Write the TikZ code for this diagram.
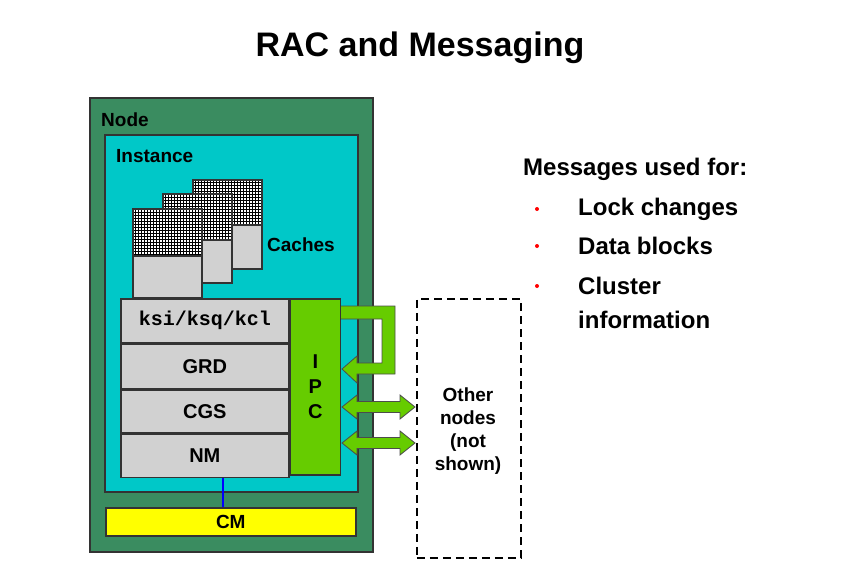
\documentclass[tikz,border=0pt]{standalone}
\usepackage{fontspec}
\setmainfont{Liberation Sans}
\setmonofont{Liberation Mono}
\usetikzlibrary{patterns}
\definecolor{nodegreen}{RGB}{58,140,96}
\definecolor{instcyan}{RGB}{0,200,200}
\definecolor{ipcgreen}{RGB}{102,204,0}
\definecolor{cmyellow}{RGB}{255,255,0}
\tikzset{
  box/.style={draw=black!80,line width=1.6pt},
  layer/.style={box,fill=black!18,font=\bfseries\fontsize{20}{20}\selectfont},
  card/.style={box,fill=black!18},
  lbl/.style={font=\bfseries\fontsize{19}{19}\selectfont,anchor=west,inner sep=0pt},
  big/.style={font=\bfseries\fontsize{24}{24}\selectfont},
  fat/.style={draw=black!70,line width=0.8pt,fill=ipcgreen}
}
\begin{document}
\begin{tikzpicture}[x=1pt,y=-1pt]
\useasboundingbox (0,0) rectangle (865,584);
\node[font=\bfseries\fontsize{34}{34}\selectfont] (title) at (420,48) {RAC and Messaging};
% Node and instance
\draw[box,fill=nodegreen] (90,98) rectangle (373,552);
\node[lbl] (nodelbl) at (101,120) {Node};
\draw[box,fill=instcyan] (105,135) rectangle (358,492);
\node[lbl] (instlbl) at (116,156) {Instance};
% Caches
\foreach \cx/\cy/\ch in {193/180/225,163/194/240,133/209/256}{
  \draw[card] (\cx,\cy) rectangle (\cx+69,\cy+89);
  \fill[white] (\cx,\cy) rectangle (\cx+69,\ch);
  \fill[pattern=grid,pattern color=black] (\cx,\cy) rectangle (\cx+69,\ch);
  \draw[box] (\cx,\cy) rectangle (\cx+69,\cy+89) (\cx,\ch) -- (\cx+69,\ch);
}
\node[lbl] (caches) at (267,245) {Caches};
% Layers
\node[layer,minimum width=168,minimum height=44,anchor=north west,font=\ttfamily\bfseries\fontsize{20}{20}\selectfont] (ksi) at (120,298) {ksi/ksq/kcl};
\node[layer,minimum width=168,minimum height=44,anchor=north] (grd) at (ksi.south) {GRD};
\node[layer,minimum width=168,minimum height=43,anchor=north] (cgs) at (grd.south) {CGS};
\node[layer,minimum width=168,minimum height=43,anchor=north] (nm) at (cgs.south) {NM};
\node[box,fill=ipcgreen,anchor=north west,minimum width=50,minimum height=176,align=center,
  font=\bfseries\fontsize{20}{25}\selectfont] (ipc) at (ksi.north east) {I\\P\\C};
% CM
\node[box,fill=cmyellow,anchor=north west,minimum width=250,minimum height=28,
  font=\bfseries\fontsize{19}{19}\selectfont] (cm) at (105,507) {CM};
\coordinate (nmfoot) at (223,478);
\draw[blue,line width=1.2pt] (nmfoot) -- (nmfoot |- cm.north);
% Loop arrow
\draw[fat] (341,306) -- (395,306) -- (395,374) -- (357,374) -- (357,383) -- (342,369)
  -- (357,356) -- (357,363) -- (382,363) -- (382,319) -- (341,319);
% Other nodes
\node[draw,dash pattern=on 8pt off 5pt,line width=1.6pt,minimum width=104,minimum height=259,anchor=north west] (other) at (416,298) {};
\node[align=center,font=\bfseries\fontsize{19}{23}\selectfont] (othertxt) at (468,431) {Other\\nodes\\(not\\shown)};
% Double arrows
\foreach \ay in {407,443}{
  \draw[fat] (342,\ay) -- (357,\ay-12) -- (357,\ay-5.5) -- (400,\ay-5.5) -- (400,\ay-12)
    -- (415,\ay) -- (400,\ay+12) -- (400,\ay+5.5) -- (357,\ay+5.5) -- (357,\ay+12) -- cycle;
}
% Message list
\node[lbl,big] (msg) at (523,169) {Messages used for:};
\foreach \ty/\tx in {209/Lock changes,246/Data blocks,286/Cluster}{
  \fill[red] (537,\ty) circle (2);
  \node[lbl,big] at (578,\ty) {\tx};
}
\node[lbl,big] (info) at (578,320) {information};
\end{tikzpicture}
\end{document}
